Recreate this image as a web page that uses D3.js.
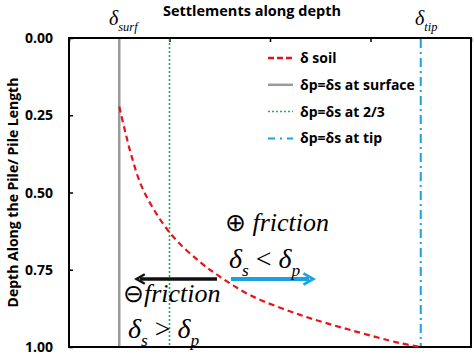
<!DOCTYPE html>
<html>
<head>
<meta charset="utf-8">
<script src="https://cdn.jsdelivr.net/npm/d3@7"></script>
<style>
  body { margin: 0; background: #fff; }
  svg { display: block; }
</style>
</head>
<body>
<div id="chart"></div>
<script>
const W = 474, H = 355;
const margin = {top: 38, right: 3, bottom: 8, left: 69};
const width = W - margin.left - margin.right;
const height = H - margin.top - margin.bottom;

// depth ticks (y axis, reversed)
const yTicks = [0, 0.25, 0.5, 0.75, 1.0];
const xTicks = [0, 1, 2, 3, 4];

// soil settlement curve: settlement (x) vs normalised depth
const soilX     = [0.50, 0.557, 0.624, 0.739, 1.005, 1.30, 1.50, 1.80, 2.30, 2.80, 3.29, 3.50];
const soilDepth = [0.222, 0.30, 0.384, 0.492, 0.631, 0.724, 0.772, 0.832, 0.896, 0.945, 0.987, 1.0];

// pile settlement cases (vertical lines)
const pileNames = ["δp=δs at surface", "δp=δs at 2/3", "δp=δs at tip"];
const pileX = [0.5, 1.0, 3.5];

var xScale = d3.scaleLinear().domain([0, 4]).range([0, width]);
var yScale = d3.scaleLinear().domain([0, 1]).range([0, height]);

var svg = d3.select("#chart").append("svg")
    .attr("width", W)
    .attr("height", H);

var defs = svg.append("defs");
function marker(id, color, size) {
    defs.append("marker")
        .attr("id", id)
        .attr("viewBox", "0 0 10 10")
        .attr("refX", 5).attr("refY", 5)
        .attr("markerWidth", size).attr("markerHeight", size)
        .attr("markerUnits", "userSpaceOnUse")
        .attr("orient", "auto")
        .append("path")
        .attr("d", "M1,1 L8,5 L1,9")
        .attr("fill", "none")
        .attr("stroke", color)
        .attr("stroke-width", 2);
}
marker("arrBlack", "#111", 12);
marker("arrBlue", "#1aa3e0", 14);

var g = svg.append("g")
    .attr("transform", "translate(" + margin.left + "," + margin.top + ")");

// title
svg.append("text")
    .attr("x", 252).attr("y", 16)
    .attr("text-anchor", "middle")
    .style("font-family", "'Open Sans', sans-serif")
    .style("font-weight", "bold")
    .style("font-size", "14.5px")
    .text("Settlements along depth");

// y axis label
svg.append("text")
    .attr("transform", "translate(18," + (margin.top + height / 2) + ") rotate(-90)")
    .attr("text-anchor", "middle")
    .style("font-family", "'Open Sans', sans-serif")
    .style("font-weight", "bold")
    .style("font-size", "14px")
    .text("Depth Along the Pile/ Pile Length");

// y axis (ticks inward)
var yAxis = d3.axisRight(yScale).tickValues(yTicks).tickSize(4).tickFormat("");
g.append("g").attr("class", "y axis").call(yAxis)
    .call(a => a.select(".domain").remove())
    .selectAll("line").attr("stroke", "#000").attr("stroke-width", 1.5);

g.selectAll(".ylab").data(yTicks).enter().append("text")
    .attr("class", "ylab")
    .attr("x", -16)
    .attr("y", d => yScale(d) + 5)
    .attr("text-anchor", "end")
    .style("font-family", "'Open Sans', sans-serif")
    .style("font-weight", "bold")
    .style("font-size", "14px")
    .text(d => d3.format(".2f")(d));

// x axis on top (ticks inward)
var xAxis = d3.axisBottom(xScale).tickValues(xTicks).tickSize(4).tickFormat("");
g.append("g").attr("class", "x axis").call(xAxis)
    .call(a => a.select(".domain").remove())
    .selectAll("line").attr("stroke", "#000").attr("stroke-width", 1.5);

// frame
g.append("rect")
    .attr("x", 0).attr("y", 0)
    .attr("width", width).attr("height", height)
    .attr("fill", "none")
    .attr("stroke", "#000")
    .attr("stroke-width", 2);

// pile lines
const pileStyle = [
    {color: "#9a9a9a", dash: null, w: 2.5},
    {color: "#1fae4e", dash: "2,2", w: 1.6},
    {color: "#1aa3e0", dash: "9,4,2,4", w: 2}
];
g.selectAll(".pile").data(pileX).enter().append("line")
    .attr("class", "pile")
    .attr("x1", d => xScale(d)).attr("x2", d => xScale(d))
    .attr("y1", 1).attr("y2", height - 1)
    .attr("stroke", (d, i) => pileStyle[i].color)
    .attr("stroke-width", (d, i) => pileStyle[i].w)
    .attr("stroke-dasharray", (d, i) => pileStyle[i].dash);

// soil curve
var line = d3.line()
    .x(d => xScale(d[0]))
    .y(d => yScale(d[1]))
    .curve(d3.curveCatmullRom);
g.append("path")
    .datum(soilX.map((x, i) => [x, soilDepth[i]]))
    .attr("d", line)
    .attr("fill", "none")
    .attr("stroke", "#e8121b")
    .attr("stroke-width", 2.2)
    .attr("stroke-dasharray", "6,4");

// legend
const legNames = ["δ soil"].concat(pileNames);
const legStyle = [{color: "#e8121b", dash: "6,3", w: 2.5}].concat(pileStyle);
var leg = g.append("g").attr("transform", "translate(199,20)");
legNames.forEach(function (name, i) {
    var row = leg.append("g").attr("transform", "translate(0," + (i * 26.8) + ")");
    row.append("line")
        .attr("x1", 0).attr("x2", 25)
        .attr("stroke", legStyle[i].color)
        .attr("stroke-width", i == 2 ? 1.5 : legStyle[i].w)
        .attr("stroke-dasharray", i == 3 ? "7,5,2,5" : legStyle[i].dash);
    row.append("text")
        .attr("x", 32).attr("y", 5)
        .style("font-family", "'Open Sans', sans-serif")
        .style("font-weight", "bold")
        .style("font-size", "14px")
        .text(name);
});

// math labels
function mathText(x, y, parts, size) {
    var t = svg.append("text")
        .attr("x", x).attr("y", y)
        .style("font-family", "'Liberation Serif', 'DejaVu Serif', serif")
        .style("font-style", "italic")
        .style("font-size", size + "px");
    parts.forEach(function (p) {
        var s = t.append("tspan").text(p.t);
        if (p.sub) {
            s.attr("dy", size * 0.3).style("font-size", (size * 0.62) + "px");
        } else if (p.back) {
            s.attr("dy", -size * 0.3);
        }
        if (p.normal) s.style("font-style", "normal");
        if (p.sym) s.style("font-family", "'DejaVu Sans'").style("font-weight", 200)
            .style("font-size", (size * 0.95) + "px");
    });
    return t;
}
mathText(109, 25, [{t: "δ"}, {t: "surf", sub: true}], 20);
mathText(415, 25, [{t: "δ"}, {t: "tip", sub: true}], 20);

// arrows
var yArrow = 279;
g.append("line")
    .attr("x1", 217 - margin.left).attr("x2", 140 - margin.left)
    .attr("y1", yArrow - margin.top).attr("y2", yArrow - margin.top)
    .attr("stroke", "#111").attr("stroke-width", 3.5)
    .attr("marker-end", "url(#arrBlack)");
g.append("line")
    .attr("x1", 231 - margin.left).attr("x2", 309 - margin.left)
    .attr("y1", yArrow - margin.top).attr("y2", yArrow - margin.top)
    .attr("stroke", "#1aa3e0").attr("stroke-width", 4)
    .attr("marker-end", "url(#arrBlue)");

// friction annotations
mathText(225, 231, [{t: "⊕", normal: true, sym: true}, {t: " friction"}], 26);
mathText(123, 302, [{t: "⊖", normal: true, sym: true}, {t: "friction"}], 26);
mathText(229, 268, [{t: "δ"}, {t: "s", sub: true}, {t: " < ", back: true, normal: true}, {t: "δ"}, {t: "p", sub: true}], 28);
mathText(128, 338, [{t: "δ"}, {t: "s", sub: true}, {t: " > ", back: true, normal: true}, {t: "δ"}, {t: "p", sub: true}], 28);
</script>
</body>
</html>
